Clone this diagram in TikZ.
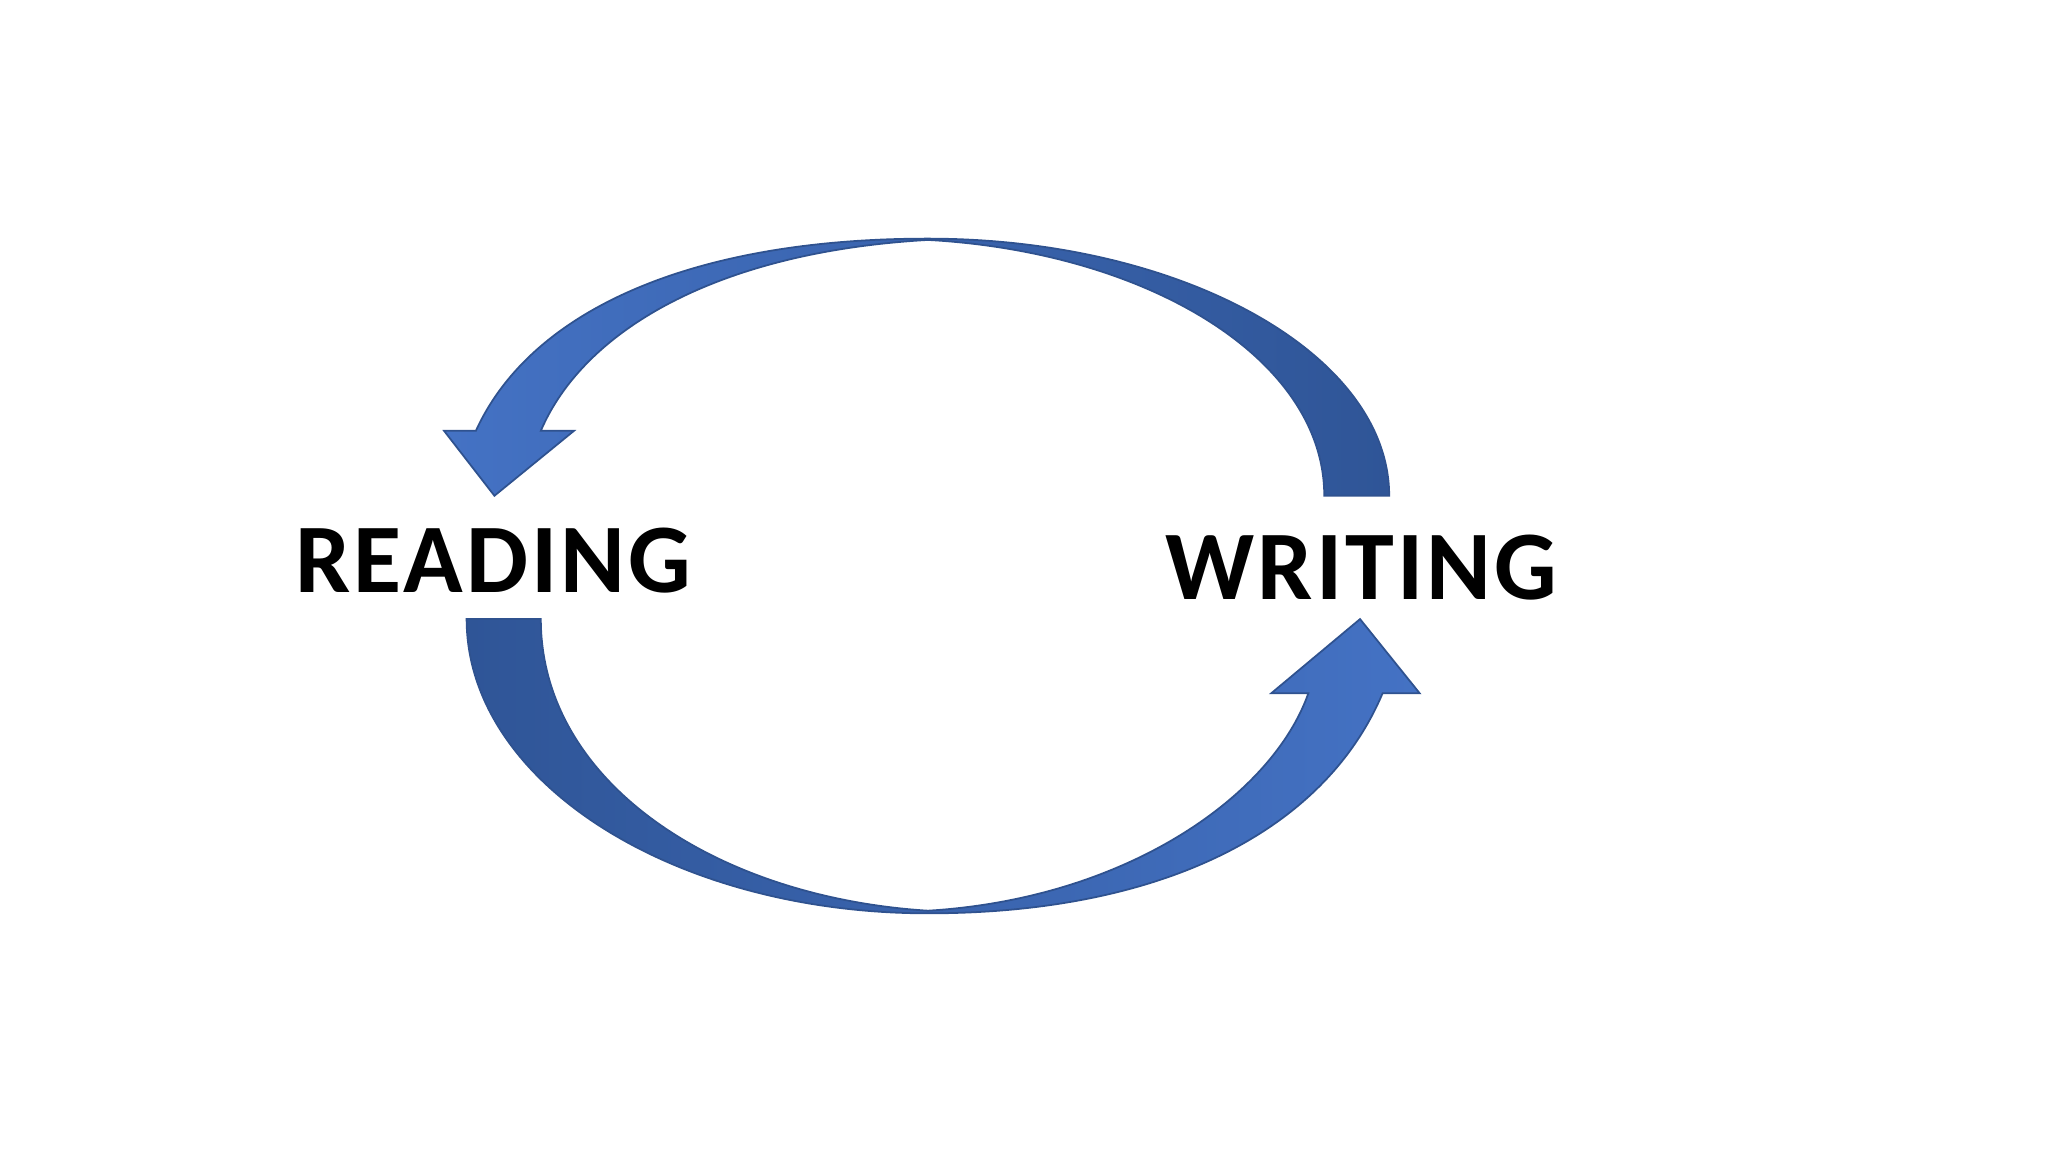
\documentclass[tikz,border=0pt]{standalone}
\usepackage{fontspec}
\setmainfont{Carlito}[LetterSpace=3]
\definecolor{lightb}{RGB}{68,114,196}
\definecolor{darkb}{RGB}{47,85,151}
\definecolor{edgeb}{RGB}{47,82,143}
\begin{document}
\begin{tikzpicture}[x=0.013256cm,y=-0.013256cm,
  arrowshape/.style={draw=edgeb,line width=0.5pt},
  label/.style={font=\bfseries\fontsize{28}{30}\selectfont,inner sep=0pt}]
\useasboundingbox (0,0) rectangle (1545,869);
% top arrow
\path[arrowshape,left color=lightb,right color=darkb]
 (999,374) -- (1048,374)
 .. controls (1048,267) and (892,180) .. (700,180)
 .. controls (520,180) and (400,235) .. (359,325)
 -- (335,325) -- (373,374) -- (433,325) -- (408,325)
 .. controls (440,250) and (540,190) .. (700,181)
 .. controls (865,190) and (999,270) .. (999,374) -- cycle;
% bottom arrow
\path[arrowshape,left color=darkb,right color=lightb]
 (408,467) -- (352,467)
 .. controls (352,590) and (508,689) .. (700,689)
 .. controls (880,689) and (1000,625) .. (1043,523)
 -- (1071,523) -- (1026,467) -- (959,523) -- (987,523)
 .. controls (960,600) and (850,678) .. (700,687)
 .. controls (540,677) and (408,590) .. (408,467) -- cycle;
\node[label] (reading) at (372,423) {READING};
\node[label] (writing) at (1027,428) {WRITING};
\end{tikzpicture}
\end{document}
